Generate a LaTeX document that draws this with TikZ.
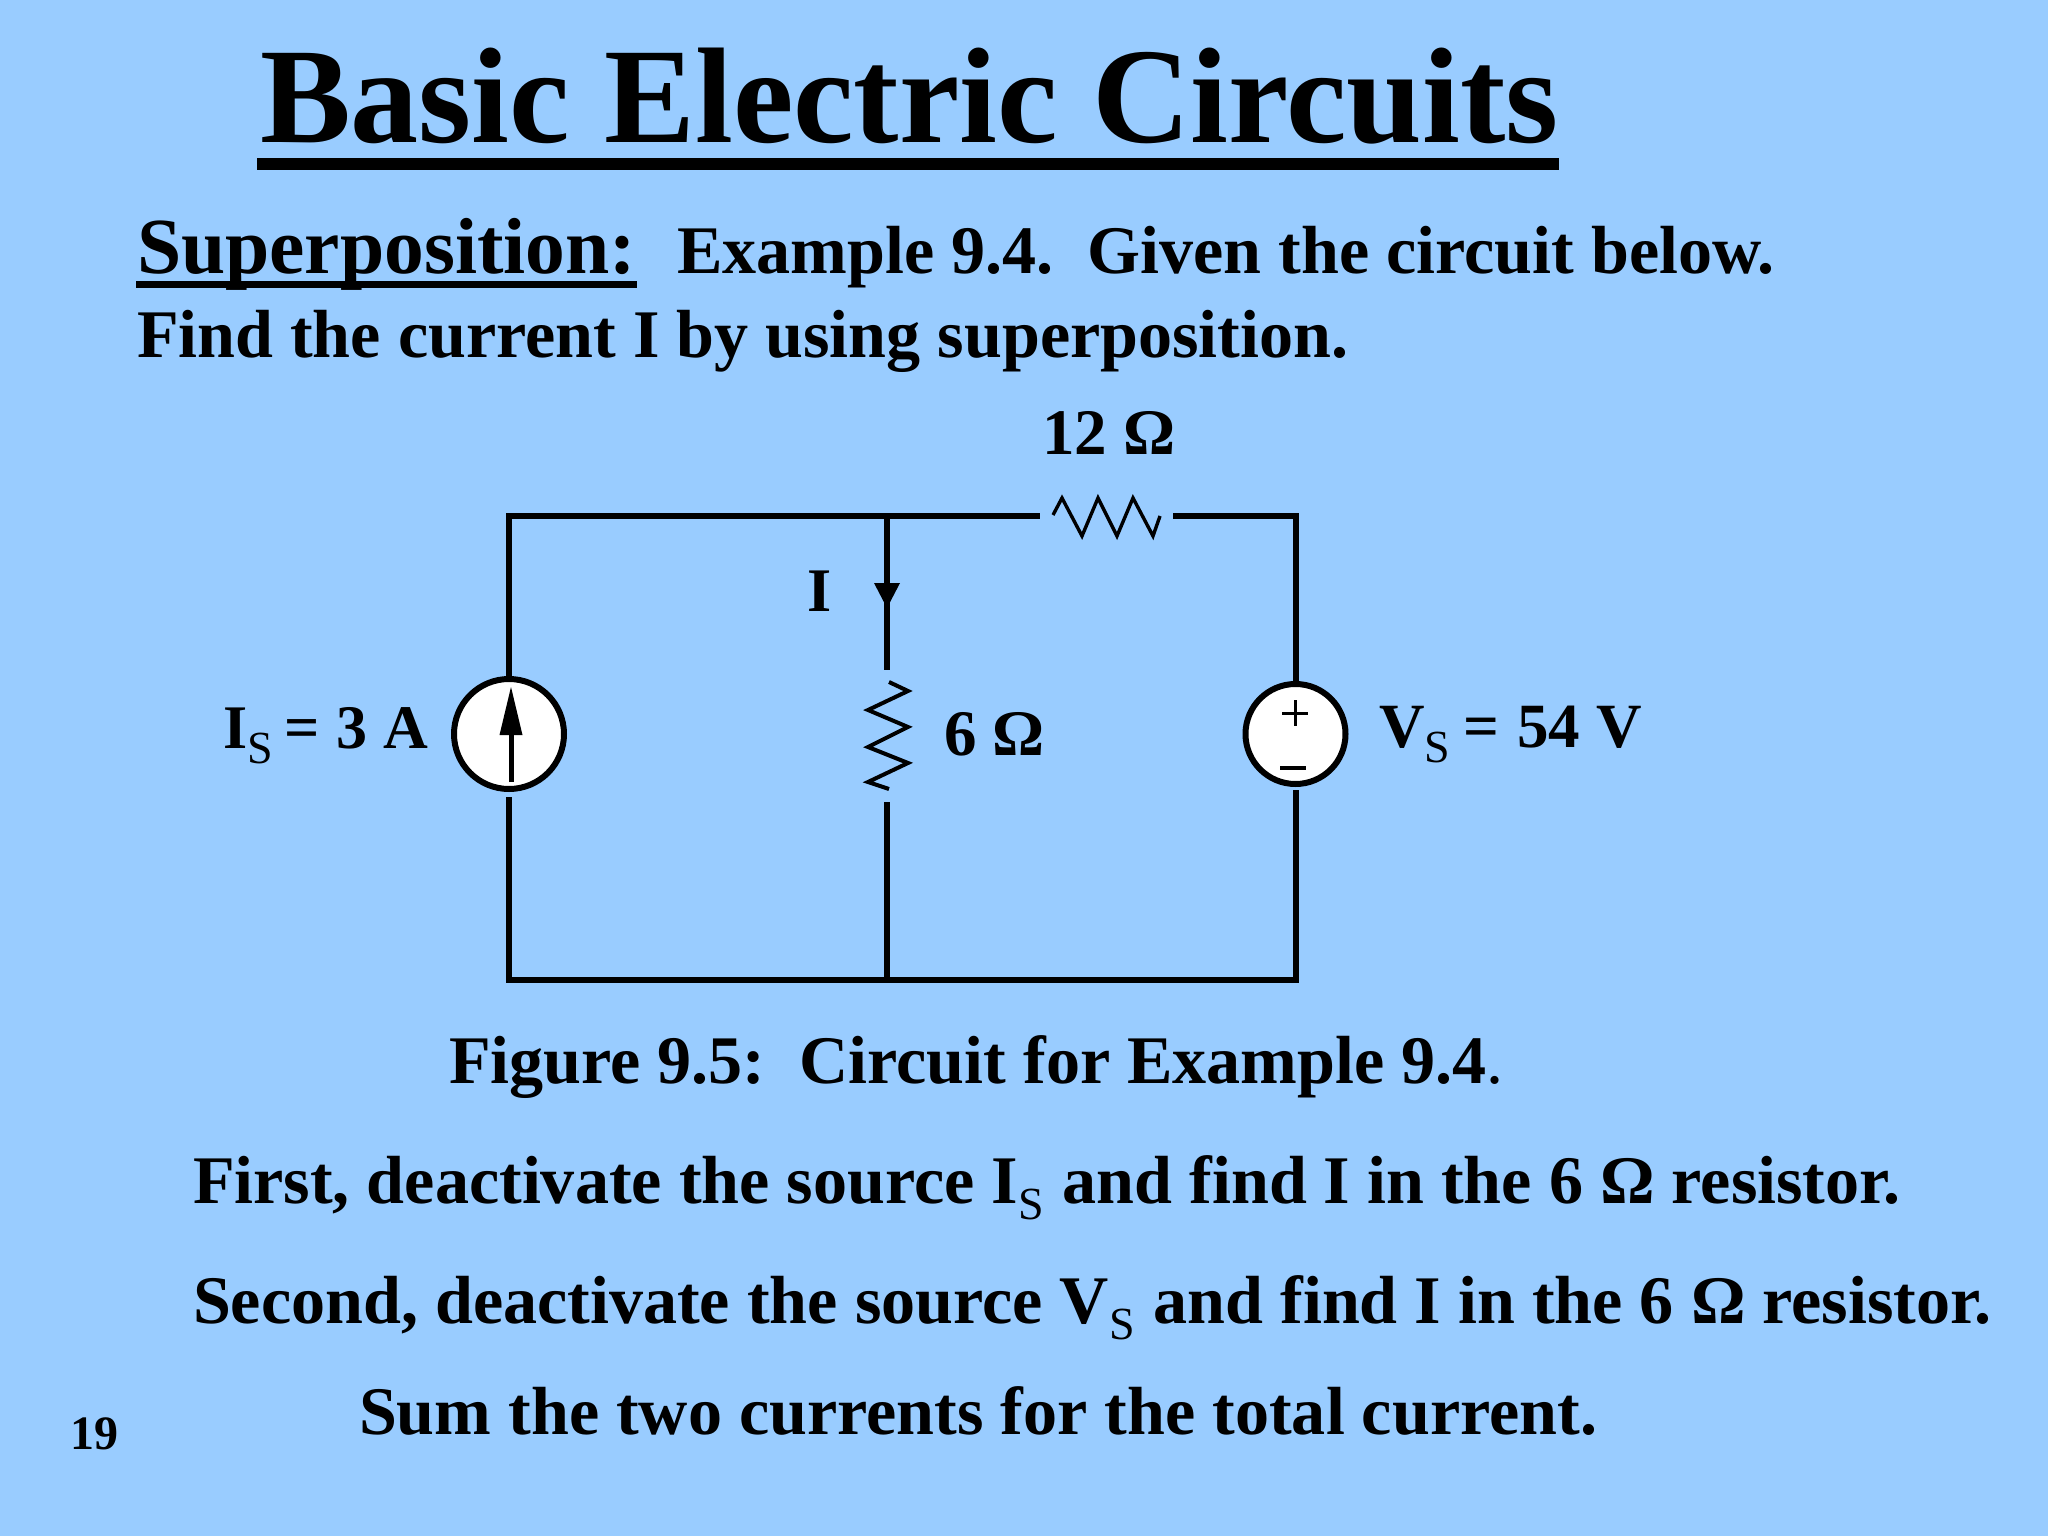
\documentclass[tikz,border=0pt]{standalone}
\usepackage{fontspec}
\setmainfont{Liberation Serif}
\definecolor{bluebg}{HTML}{99CCFF}
\newcommand{\fsz}[1]{\fontsize{#1bp}{#1bp}\selectfont}
\newcommand{\subS}{\raisebox{-15bp}{\fontsize{46bp}{46bp}\selectfont\mdseries S}}
\newcommand{\subSb}{\raisebox{-16bp}{\fontsize{46bp}{46bp}\selectfont\mdseries S}\hspace{2bp}}
\begin{document}
\begin{tikzpicture}[x=1bp,y=-1bp,
  txt/.style={anchor=base west,inner sep=0pt,outer sep=0pt,font=\fsz{68.1}\bfseries},
  lab/.style={anchor=base west,inner sep=0pt,outer sep=0pt,font=\fsz{64}\bfseries},
  wire/.style={line width=6bp,line cap=butt,line join=miter},
  zig/.style={line width=3.4bp,line join=miter},
  source/.style={circle,draw,line width=6bp,fill=white,inner sep=0pt,outer sep=0pt},
  head/.style={fill=black,draw=none}]
\useasboundingbox (0,0) rectangle (2048,1536);
\fill[bluebg] (0,0) rectangle (2048,1536);
% title
\node[txt,font=\fsz{136.2}\bfseries] (title) at (260,143) {Basic Electric Circuits};
\fill (257,158) rectangle (1559,170);
% heading
\node[txt,font=\fsz{79.5}\bfseries] (sup) at (137,273) {Superposition:};
\fill (136,281) rectangle (637,288);
\node[txt] (ex) at (677,273) {Example 9.4.\hspace{0.5em}Given the circuit below.};
\node[txt] (find) at (137,357.5) {Find the current I by using superposition.};
% circuit corners
\coordinate (tl) at (509,516);
\coordinate (tm) at (887,516);
\coordinate (tr) at (1295.5,516);
\coordinate (bl) at (509,980);
\coordinate (bm) at (887,980);
\coordinate (br) at (1295.5,980);
\node[source,minimum size=110bp] (is) at (509,734) {};
\node[source,minimum size=100bp] (vs) at (1295.5,734) {};
\coordinate (isb) at (509,797);
\coordinate (vsb) at (1295.5,790);
\coordinate (rta) at (1040,516);
\coordinate (rtb) at (1173,516);
\coordinate (rma) at (887,670);
\coordinate (rmb) at (887,802);
\draw[wire] (is.north) -- (tl) -- (rta);
\draw[wire] (rtb) -- (tr) -- (vs.north);
\draw[wire] (tm) -- (rma);
\draw[wire] (rmb) -- (bm);
\draw[wire] (isb) -- (bl) -- (br) -- (vsb);
% resistors
\draw[zig] (1053,515) -- (1062,498) -- (1082,536) -- (1098,498) -- (1117,536) -- (1133,498) -- (1153,536) -- (1160,516);
\draw[zig,line width=4bp] (889,682) -- (908,691) -- (868,710) -- (908,727) -- (868,747) -- (908,763) -- (868,782) -- (889,789);
% arrows
\fill[head] (874,583) -- (900,583) -- (887,608) -- cycle;
\draw[line width=5bp] (511,782) -- (511,735);
\fill[head] (499.5,735) -- (522.5,735) -- (511,687) -- cycle;
% polarity
\draw[line width=3bp] (1282,713) -- (1308,713) (1295,700) -- (1295,726);
\draw[line width=3.5bp] (1280,768) -- (1306,768);
% labels
\node[lab,font=\fsz{62}\bfseries] (lI) at (807,611) {I};
\node[lab,font=\fsz{65}\bfseries] (l12) at (1042,454) {12 Ω};
\node[lab,font=\fsz{65}\bfseries] (l6) at (944,755) {6 Ω};
\node[lab,font=\fsz{62}\bfseries] (lis) at (223,748) {I\subS\hspace{0.185em}=\hspace{0.28em}3 A};
\node[lab,font=\fsz{63}\bfseries] (lvs) at (1379,747) {V\subS\hspace{0.22em}=\hspace{0.28em}54 V};
\node[txt] (fig) at (449,1083) {Figure 9.5:\hspace{0.5em}Circuit for Example 9.4{\mdseries .}};
\node[txt] (first) at (193,1203) {First, deactivate the source I\subSb{} and find I in the 6 Ω resistor.};
\node[txt] (second) at (193,1323) {Second, deactivate the source V\subSb{} and find I in the 6 Ω resistor.};
\node[txt] (sum) at (359,1434) {Sum the two currents for the total current.};
\node[txt,font=\fsz{48}\bfseries] (pg) at (70,1449) {19};
\end{tikzpicture}
\end{document}
